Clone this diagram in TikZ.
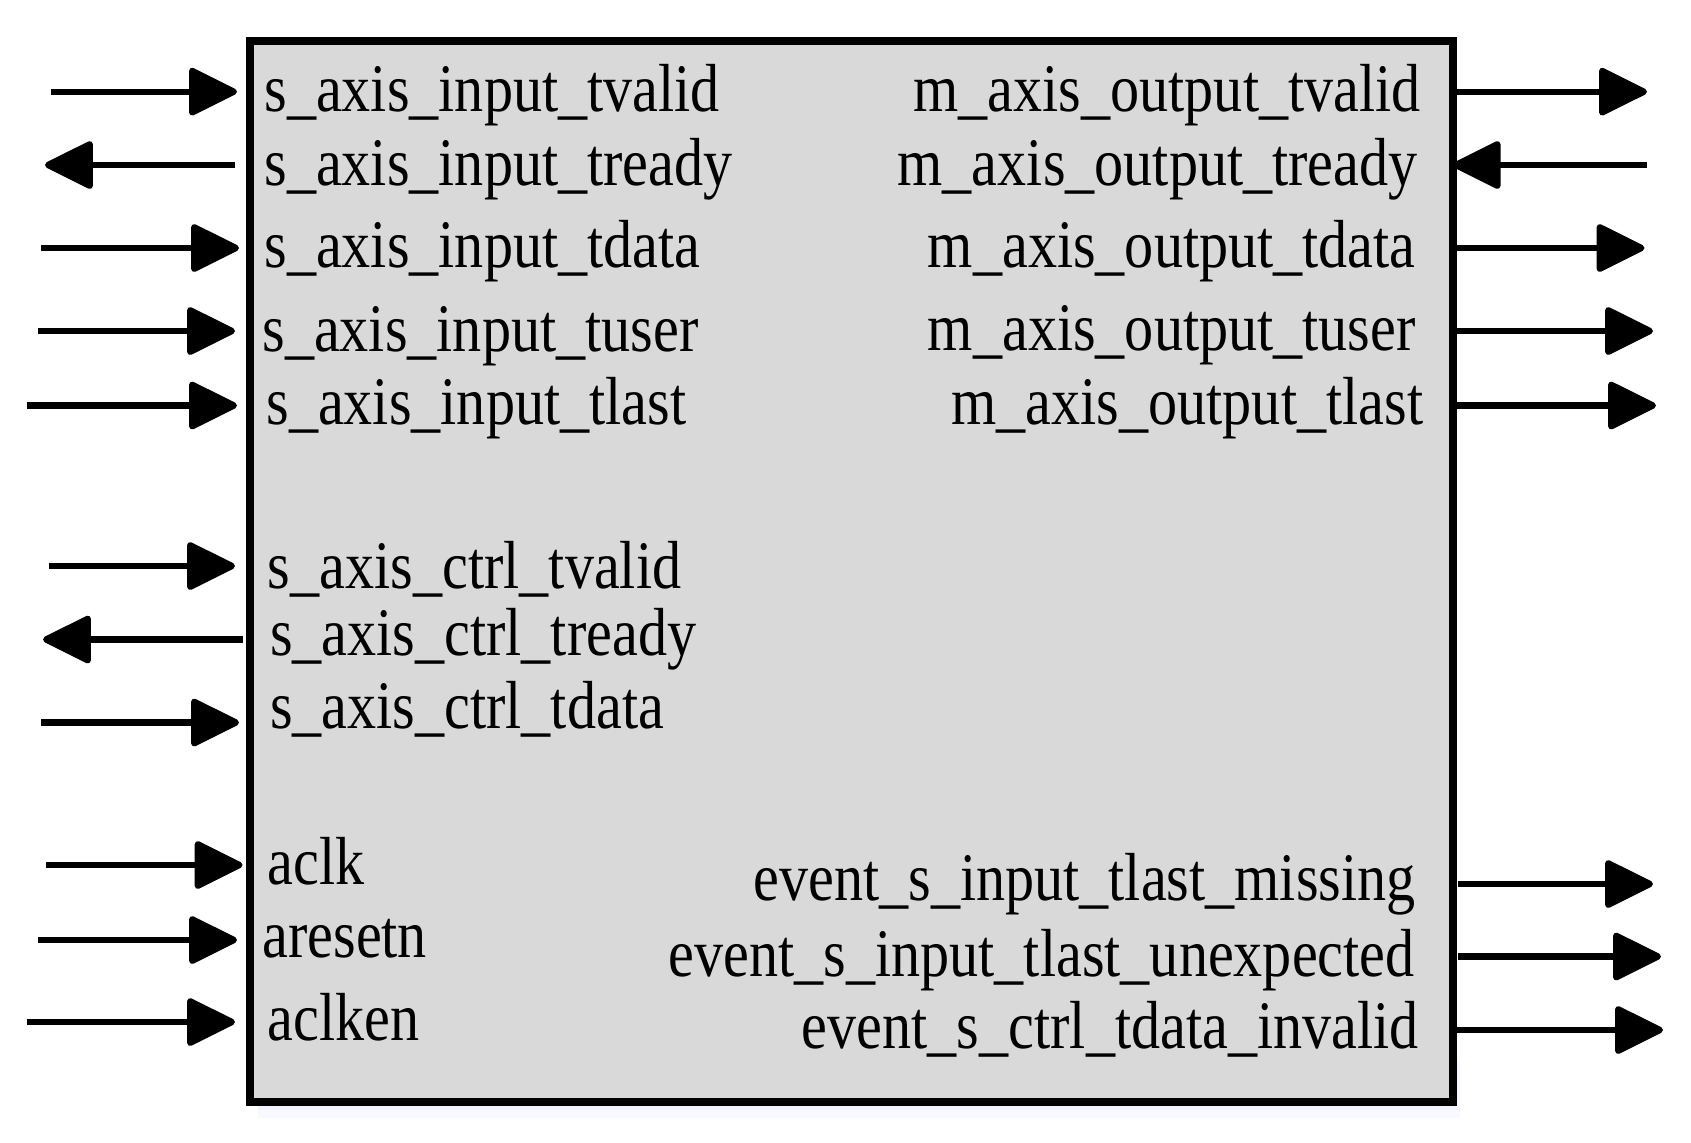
\documentclass[tikz,border=0pt]{standalone}
\usepackage{fontspec}
\setmainfont{Liberation Serif}[FakeStretch=0.855]
\usetikzlibrary{arrows.meta}
\begin{document}
\begin{tikzpicture}[x=0.5pt,y=-0.5pt,
  sig/.style={line width=3.1pt,-{Triangle[length=26pt,width=25pt,round]}},
  lbl/.style={inner sep=0pt,font=\fontsize{34pt}{37pt}\selectfont},
  lft/.style={lbl,anchor=base west},
  rgt/.style={lbl,anchor=base east}]
\useasboundingbox (0,0) rectangle (1691,1142);
% shadow
\fill[blue!5!white,opacity=0.5] (258,1060) rectangle (1460,1118);
\fill[blue!8!white,opacity=0.5] (258,1060) rectangle (1458,1110);
% box
\draw[line width=3.8pt,fill={rgb,255:red,217;green,217;blue,217}] (250,41) rectangle (1453,1102);
\node[draw=none,inner sep=0pt] (blk) at (851.5,571.5) {};
% left labels
\node[lft] (l1) at (264,111) {s\_axis\_input\_tvalid};
\node[lft] (l2) at (264,185.5) {s\_axis\_input\_tready};
\node[lft] (l3) at (264,267.5) {s\_axis\_input\_tdata};
\node[lft] (l4) at (262,351.5) {s\_axis\_input\_tuser};
\node[lft] (l5) at (266,424) {s\_axis\_input\_tlast};
\node[lft] (l6) at (267.5,588) {s\_axis\_ctrl\_tvalid};
\node[lft] (l7) at (269.6,655.7) {s\_axis\_ctrl\_tready};
\node[lft] (l8) at (269.6,728) {s\_axis\_ctrl\_tdata};
\node[lft] (l9) at (267.5,884) {aclk};
\node[lft] (l10) at (262,957.6) {aresetn};
\node[lft] (l11) at (267.5,1040.7) {aclken};
% right labels
\node[rgt] (r1) at (1421,111) {m\_axis\_output\_tvalid};
\node[rgt] (r2) at (1418,185.5) {m\_axis\_output\_tready};
\node[rgt] (r3) at (1416,267.5) {m\_axis\_output\_tdata};
\node[rgt] (r4) at (1416,350.5) {m\_axis\_output\_tuser};
\node[rgt] (r5) at (1423.5,424) {m\_axis\_output\_tlast};
\node[rgt] (r6) at (1416,900.5) {event\_s\_input\_tlast\_missing};
\node[rgt] (r7) at (1415,976) {event\_s\_input\_tlast\_unexpected};
\node[rgt] (r8) at (1419,1048) {event\_s\_ctrl\_tdata\_invalid};
% left arrow endpoints
\coordinate (a1) at (51,91.7);   \coordinate (b1) at (237,91.7);
\coordinate (a2) at (45,165);    \coordinate (b2) at (235,165);
\coordinate (a3) at (41,248);    \coordinate (b3) at (239,248);
\coordinate (a4) at (38,331);    \coordinate (b4) at (235,331);
\coordinate (a5) at (27,405.5);  \coordinate (b5) at (237,405.5);
\coordinate (a6) at (48.5,566);  \coordinate (b6) at (235,566);
\coordinate (a7) at (43,639.5);  \coordinate (b7) at (242.6,639.5);
\coordinate (a8) at (41,722.5);  \coordinate (b8) at (239,722.5);
\coordinate (a9) at (46,865);    \coordinate (b9) at (242.6,865);
\coordinate (a10) at (38,940);   \coordinate (b10) at (237,940);
\coordinate (a11) at (27,1022);  \coordinate (b11) at (235,1022);
\draw[sig] (a1) -- (b1);
\draw[sig] (b2) -- (a2);
\draw[sig] (a3) -- (b3);
\draw[sig] (a4) -- (b4);
\draw[sig] (a5) -- (b5);
\draw[sig] (a6) -- (b6);
\draw[sig] (b7) -- (a7);
\draw[sig] (a8) -- (b8);
\draw[sig] (a9) -- (b9);
\draw[sig] (a10) -- (b10);
\draw[sig] (a11) -- (b11);
% right arrow endpoints
\coordinate (c1) at (1456,91.7);   \coordinate (d1) at (1647,91.7);
\coordinate (c2) at (1452.6,165);  \coordinate (d2) at (1647,165);
\coordinate (c3) at (1456,248);    \coordinate (d3) at (1644.5,248);
\coordinate (c4) at (1456,331);    \coordinate (d4) at (1653,331);
\coordinate (c5) at (1456,405.5);  \coordinate (d5) at (1656,405.5);
\coordinate (c6) at (1458,884);    \coordinate (d6) at (1653,884);
\coordinate (c7) at (1458,956.5);  \coordinate (d7) at (1661,956.5);
\coordinate (c8) at (1456,1030);   \coordinate (d8) at (1663,1030);
\draw[sig] (c1) -- (d1);
\draw[sig] (d2) -- (c2);
\draw[sig] (c3) -- (d3);
\draw[sig] (c4) -- (d4);
\draw[sig] (c5) -- (d5);
\draw[sig] (c6) -- (d6);
\draw[sig] (c7) -- (d7);
\draw[sig] (c8) -- (d8);
\end{tikzpicture}
\end{document}
